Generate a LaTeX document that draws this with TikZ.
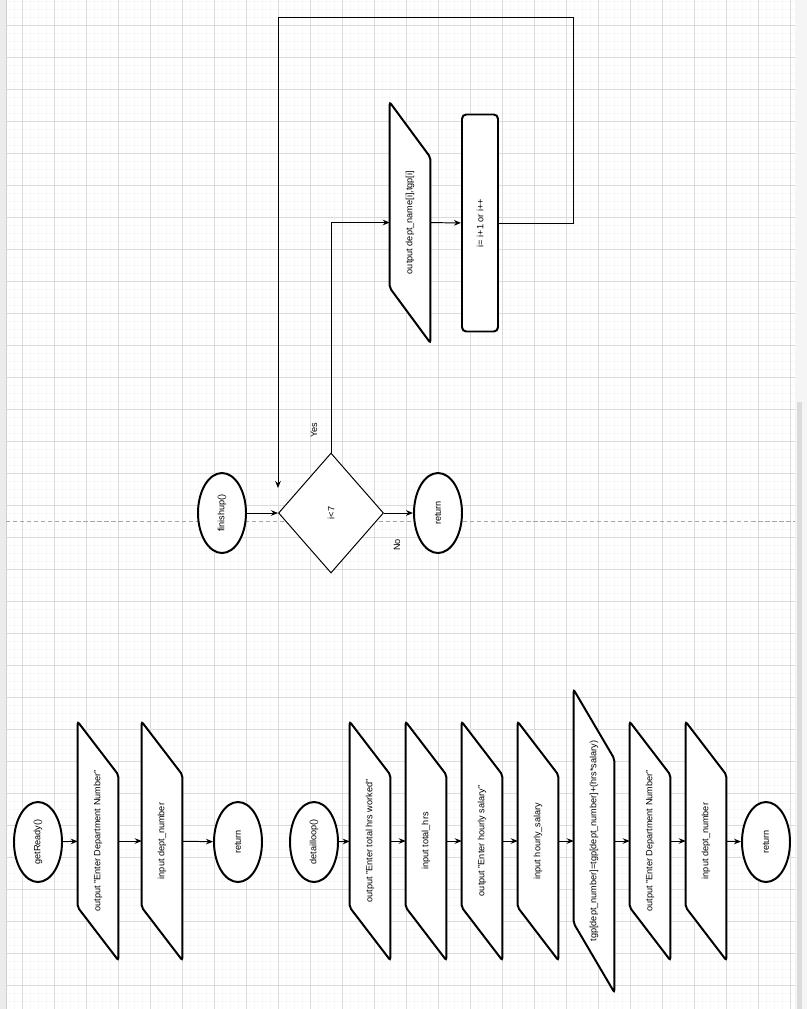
\documentclass[tikz,border=0pt]{standalone}
\usepackage{fontspec}
\setmainfont{Liberation Sans}
\usetikzlibrary{calc,shapes.geometric,arrows.meta}

\def\px{0.025cm} % one pixel of the sheet
\tikzset{
  shapeline/.style={draw, line width=1.4pt, black},
  flow/.style={line width=0.7pt, -{Stealth[length=5pt,width=4pt]}},
  iobox/.style={rectangle, minimum width=40*\px, inner sep=0pt},
  terminal/.style={ellipse, shapeline, fill=white, minimum width=48*\px,
    minimum height=80*\px, inner sep=0pt},
  decision/.style={diamond, draw, line width=0.7pt, fill=white,
    minimum width=105*\px, minimum height=120*\px, inner sep=0pt},
  process/.style={rectangle, rounded corners=3pt, shapeline, fill=white,
    minimum width=36*\px, minimum height=217*\px, inner sep=0pt},
  tag/.style={font=\fontsize{6.5}{7}\selectfont, rotate=90},
  majorgrid/.style={line width=0.5pt, black!14},
  minorgrid/.style={line width=0.3pt, black!3}
}
% input/output box on its side
% #1 name, #2 x, #3 y, #4 full height, #5 shear, #6 text
\newcommand\IOBox[6]{%
  \node[iobox, minimum height=#4*\px] (#1) at (#2,#3) {};
  \filldraw[shapeline, fill=white, rounded corners=1.5pt]
    (#1.north west) -- ($(#1.north east)+(0,#5)$) -- (#1.south east)
    -- ($(#1.south west)+(0,-#5)$) -- cycle;
  \node[tag] at (#1) {#6};
}

\begin{document}
\begin{tikzpicture}[x=\px, y=-\px]

\useasboundingbox (0,0) rectangle (807,1009);

% the sheet
\fill[white] (0,0) rectangle (807,1009);
\foreach \gx in {6.3,14.3,...,800} { \draw[minorgrid] (\gx,0) -- (\gx,1009); }
\foreach \gy in {1.3,9.3,...,1009} { \draw[minorgrid] (6,\gy) -- (795,\gy); }
\foreach \gx in {22.3,54.3,...,800} { \draw[majorgrid] (\gx,0) -- (\gx,1009); }
\foreach \gy in {25.3,57.3,...,1009} { \draw[majorgrid] (6,\gy) -- (795,\gy); }
\fill[black!8] (0,0) rectangle (6,1009);
\draw[black!18] (6.5,0) -- (6.5,1009);
\fill[black!4] (795,0) rectangle (807,1009);
\fill[black!14] (797,402) rectangle (802,1009);
\draw[black!35, dashed, dash pattern=on 3pt off 2pt] (6,521) -- (795,521);

% finishUp
\node[terminal] (fin) at (222,513) {};
\node[tag] at (fin) {finishup()};
\node[decision] (test) at (331,513) {};
\node[tag] at (test) {i<7};
\node[terminal] (finret) at (438,513) {};
\node[tag] at (finret) {return};
\IOBox{outname}{410}{222.5}{240}{55}{output dept\_name[i],tgp[i]}
\node[process] (inc) at (480,223) {};
\node[tag] at (inc) {i= i+1 or i++};
\node[tag] (yeslabel) at (314,430) {Yes};
\node[tag] (nolabel) at (397,545) {No};
\coordinate (looptop) at (278,17);
\coordinate (loopend) at (278,488);

\draw[flow] (fin) -- (test);
\draw[flow] (test) -- (finret);
\draw[flow] (test.north) |- (outname.west);
\draw[flow] (outname) -- (inc);
\draw[flow] (inc.east) -- ++(75,0) |- (looptop) -- (loopend);

% getReady
\node[terminal] (ready) at (38,842) {};
\node[tag] at (ready) {getReady()};
\IOBox{askdept}{98}{841}{238}{53}{output "Enter Department Number"}
\IOBox{readdept}{162}{841}{238}{53}{input dept\_number}
\node[terminal] (readyret) at (238,842) {};
\node[tag] at (readyret) {return};

\draw[flow] (ready) -- (askdept);
\draw[flow] (askdept) -- (readdept);
\draw[flow] (readdept) -- (readyret);

% detailLoop
\node[terminal] (loop) at (314,842) {};
\node[tag] at (loop) {detailloop()};
\IOBox{askhrs}{370}{841}{238}{53}{output "Enter total hrs worked"}
\IOBox{readhrs}{426}{841}{238}{53}{input total\_hrs}
\IOBox{asksal}{482}{841}{238}{53}{output "Enter hourly salary"}
\IOBox{readsal}{538}{841}{238}{53}{input hourly\_salary}
\IOBox{addtgp}{594}{841}{302}{69}{tgp[dept\_number]=tgp[dept\_number]+(hrs*salary)}
\IOBox{askdeptb}{650}{841}{238}{53}{output "Enter Department Number"}
\IOBox{readdeptb}{706}{841}{238}{53}{input dept\_number}
\node[terminal] (loopret) at (766,842) {};
\node[tag] at (loopret) {return};

\draw[flow] (loop) -- (askhrs);
\draw[flow] (askhrs) -- (readhrs);
\draw[flow] (readhrs) -- (asksal);
\draw[flow] (asksal) -- (readsal);
\draw[flow] (readsal) -- (addtgp);
\draw[flow] (addtgp) -- (askdeptb);
\draw[flow] (askdeptb) -- (readdeptb);
\draw[flow] (readdeptb) -- (loopret);

\end{tikzpicture}
\end{document}
